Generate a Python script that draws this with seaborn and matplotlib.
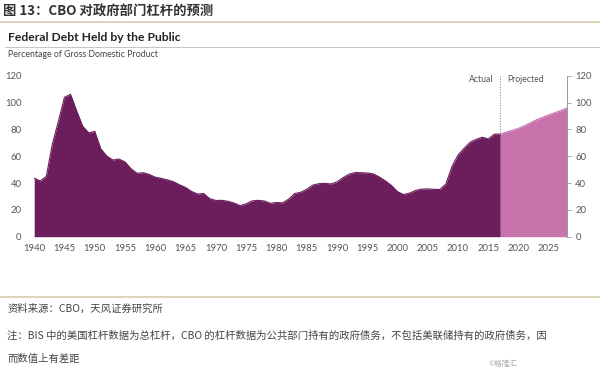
import numpy as np
import pandas as pd
import matplotlib
matplotlib.use("Agg")
import matplotlib.pyplot as plt
import seaborn as sns

# Federal debt held by the public, % of GDP
actual_years = list(range(1940, 2018))
actual_values = [
    43.6, 41.5, 45.0, 69.0, 86.0, 103.9, 106.1, 93.9, 82.4, 77.4,
    78.5, 65.4, 60.1, 57.1, 57.9, 55.7, 50.6, 47.2, 47.7, 46.4,
    44.3, 43.5, 42.3, 41.0, 38.7, 36.7, 33.7, 31.8, 32.2, 28.3,
    27.0, 27.1, 26.4, 25.1, 23.1, 24.5, 26.7, 27.1, 26.6, 24.9,
    25.5, 25.2, 27.9, 32.1, 33.1, 35.3, 38.4, 39.5, 39.8, 39.3,
    40.8, 44.0, 46.6, 47.8, 47.7, 47.5, 46.8, 44.5, 41.6, 38.2,
    33.6, 31.4, 32.5, 34.5, 35.5, 35.6, 35.3, 35.2, 39.3, 52.3,
    60.9, 65.9, 70.4, 72.6, 74.1, 72.9, 76.4, 76.5,
]
proj_years = list(range(2017, 2029))
proj_values = [76.5, 78.0, 79.3, 80.8, 82.7, 85.0, 87.2, 89.0, 90.8, 92.4, 94.0, 96.0]

x_ticks = list(range(1940, 2030, 5))
y_ticks = [0, 20, 40, 60, 80, 100, 120]

title_cn = "图 13：CBO 对政府部门杠杆的预测"
chart_title = "Federal Debt Held by the Public"
subtitle = "Percentage of Gross Domestic Product"
source_text = "资料来源：CBO，天风证券研究所"
note_line1 = "注：BIS 中的美国杠杆数据为总杠杆，CBO 的杠杆数据为公共部门持有的政府债务，不包括美联储持有的政府债务，因"
note_line2 = "而数值上有差距"
watermark = "©格隆汇"

dark = "#6b1d5c"
pink = "#c973ad"

actual = pd.DataFrame({"year": actual_years, "debt": actual_values})
proj = pd.DataFrame({"year": proj_years, "debt": proj_values})

sns.set_theme(style="white")
plt.rcParams["font.family"] = ["Noto Sans CJK SC", "DejaVu Sans"]

fig = plt.figure(figsize=(6, 3.73), dpi=100)
ax = fig.add_axes([0.057, 0.3654, 0.888, 0.4317])

ax.fill_between(actual["year"], actual["debt"], color=dark, lw=0)
ax.fill_between(proj["year"], proj["debt"], color=pink, lw=0)
sns.lineplot(data=actual, x="year", y="debt", color=dark, lw=0.8, ax=ax)
sns.lineplot(data=proj, x="year", y="debt", color=pink, lw=0.8, ax=ax)

ax.axvline(actual_years[-1], color="#8a8a8a", lw=0.7, ls=(0, (1.2, 1.5)))
ax.text(actual_years[-1] - 1.2, 117, "Actual", ha="right", va="center",
        fontsize=6.2, color="#555555", family="Lato")
ax.text(actual_years[-1] + 1.2, 117, "Projected", ha="left", va="center",
        fontsize=6.2, color="#555555", family="Lato")

ax.set_xlim(1940, 2028)
ax.set_ylim(0, 120)
ax.set_xticks(x_ticks)
ax.set_yticks(y_ticks)
ax.set_xlabel("")
ax.set_ylabel("")
for s in ["top", "left", "bottom", "right"]:
    ax.spines[s].set_visible(False)

ax.tick_params(axis="x", direction="in", length=3, color="#8f5a84", width=0.6,
               labelsize=6.8, labelcolor="#555555", pad=5)
ax.tick_params(axis="y", length=0, labelsize=6.8, labelcolor="#555555", pad=9)

# right-hand axis repeats the scale
ax2 = ax.twinx()
ax2.set_ylim(ax.get_ylim())
ax2.set_yticks(y_ticks)
for s in ["top", "left", "bottom"]:
    ax2.spines[s].set_visible(False)
ax2.spines["right"].set_color("#999999")
ax2.spines["right"].set_linewidth(0.7)
ax2.tick_params(axis="y", length=3, color="#999999", width=0.6,
                labelsize=6.8, labelcolor="#555555", pad=3)

for lab in ax.get_xticklabels() + ax.get_yticklabels() + ax2.get_yticklabels():
    lab.set_family("Lato")

# header / footer text
fig.text(0.005, 0.970, title_cn, fontsize=9.6, fontweight="bold", color="#333333", va="center")
fig.add_artist(plt.Line2D([0, 1], [0.941, 0.941], color="#d8ccae", lw=1.2))
fig.text(0.013, 0.900, chart_title, fontsize=8.7, fontweight="bold", color="#222222",
         va="center", family="Lato")
fig.add_artist(plt.Line2D([0.008, 1], [0.874, 0.874], color="#bbbbbb", lw=0.6))
fig.text(0.013, 0.853, subtitle, fontsize=6.3, color="#444444", va="center", family="Lato")

fig.add_artist(plt.Line2D([0, 1], [0.204, 0.204], color="#d8ccae", lw=1.2))
fig.text(0.012, 0.171, source_text, fontsize=7.45, color="#444444", va="center")
fig.text(0.012, 0.100, note_line1, fontsize=7.45, color="#444444", va="center")
fig.text(0.012, 0.037, note_line2, fontsize=7.45, color="#444444", va="center")
fig.text(0.815, 0.024, watermark, fontsize=5.5, color="#aaaaaa", va="center")

plt.savefig("out.png", dpi=100)
